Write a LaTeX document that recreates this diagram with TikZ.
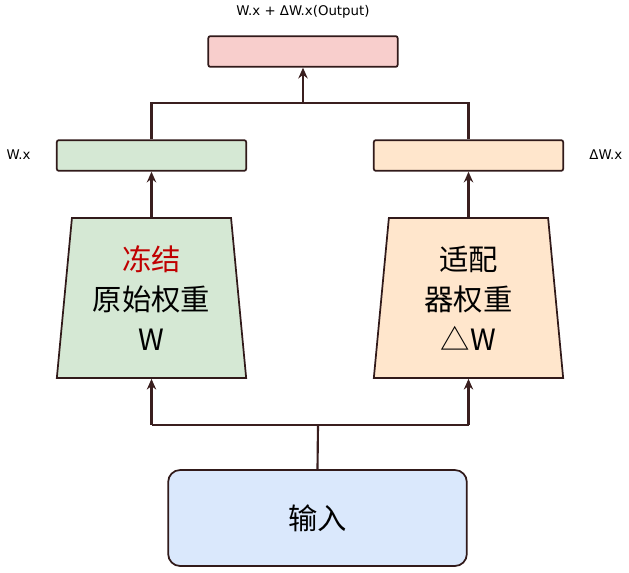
\documentclass[tikz,border=0pt]{standalone}
\usepackage{fontspec}
\setmainfont{DejaVu Sans}
\newfontfamily\cjk{Noto Sans CJK SC}
\usetikzlibrary{shapes.geometric,arrows.meta}
\definecolor{ln}{HTML}{3A1F1F}
\definecolor{pk}{HTML}{F8CECC}
\definecolor{gr}{HTML}{D5E8D4}
\definecolor{og}{HTML}{FFE6CC}
\definecolor{bl}{HTML}{DAE8FC}
\tikzset{
 box/.style={draw=ln!85!black,line width=1.3pt,rounded corners=1.5pt,minimum width=142pt,minimum height=23pt,inner sep=0},
 trap/.style={draw=ln!85!black,line width=1.3pt,trapezium,trapezium stretches body,trapezium angle=81.8,minimum width=142pt,minimum height=120pt,inner sep=0,align=center,font=\cjk\fontsize{22}{30}\selectfont},
 lab/.style={font=\fontsize{10}{12}\selectfont},
 conn/.style={ln,line width=1.6pt},
 arr/.style={conn,-{Stealth[length=8pt,width=7pt]}}
}
\begin{document}
\begin{tikzpicture}[x=0.75pt,y=-0.75pt]
\useasboundingbox[fill=white] (0,0) rectangle (629,572);
\node[box,fill=pk] (out) at (303,51.5) {};
\node[lab] (outl) at (303,12) {W.x + ΔW.x(Output)};
\node[box,fill=gr] (wl) at (151.5,155.5) {};
\node[box,fill=og] (wr) at (468.5,155.5) {};
\node[lab,anchor=west] (wxl) at (2,155) {W.x};
\node[lab,anchor=east] (dwl) at (627,155) {ΔW.x};
\node[trap,fill=gr] (tl) at (151.5,298) {\textcolor[HTML]{C00000}{冻结}\\原始权重\\W};
\node[trap,fill=og] (tr) at (468.5,298) {适配\\器权重\\△W};
\node[draw=ln!85!black,line width=1.3pt,rounded corners=9pt,fill=bl,minimum width=224pt,minimum height=72pt,font=\cjk\fontsize{22}{26}\selectfont] (in) at (317.5,518) {输入};
\coordinate (j1) at (318,425);
\coordinate (j1l) at (151.5,425);
\coordinate (j1r) at (468.5,425);
\coordinate (j2) at (303,103);
\coordinate (j2l) at (151.5,103);
\coordinate (j2r) at (468.5,103);
\draw[conn] (in.north) -- (j1);
\draw[conn] (j1l) -- (j1r);
\draw[arr] (j1l) -- (tl.bottom side);
\draw[arr] (j1r) -- (tr.bottom side);
\draw[arr] (tl.top side) -- (wl.south);
\draw[arr] (tr.top side) -- (wr.south);
\draw[conn] (wl.north) -- (j2l) -- (j2r) -- (wr.north);
\draw[arr] (j2) -- (out.south);
\end{tikzpicture}
\end{document}
